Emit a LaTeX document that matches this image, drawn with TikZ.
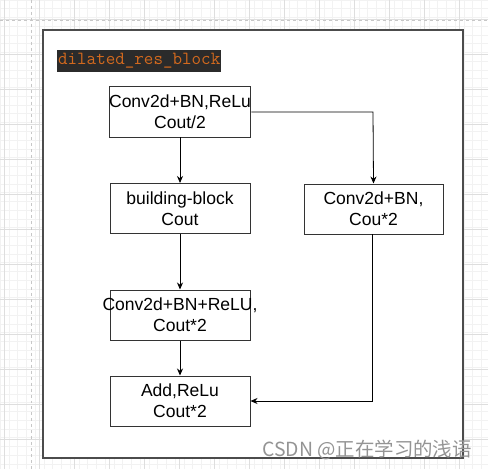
\documentclass[tikz,border=0pt]{standalone}
\usepackage{fontspec}
\setmainfont{Liberation Sans}
\newfontfamily\cjkfont{Noto Sans CJK SC}
\usetikzlibrary{arrows.meta}
\definecolor{darcbg}{HTML}{2B2B2B}
\definecolor{darcor}{HTML}{D2691E}
\definecolor{boxline}{HTML}{333333}
\tikzset{
  blk/.style={draw=boxline, line width=1pt, fill=white, minimum width=140bp, minimum height=50bp,
    inner sep=0pt, align=center, font=\fontsize{17.6}{21.5}\selectfont},
  conn/.style={draw=black, line width=0.8pt, -{Stealth[length=7bp,width=6bp]}},
  line/.style={draw=black, line width=0.8pt}
}
\begin{document}
\begin{tikzpicture}[x=1bp,y=-1bp]
\useasboundingbox (0,0) rectangle (488,469);
% background grid
\fill[white] (0,0) rectangle (488,469);
\draw[color=black!5, line width=0.5pt, step=8.75bp] (0,0) grid (488,469);
\foreach \xx in {4,39,74,109,144,179,214,249,284,319,354,389,424,459}
  \draw[color=black!13, line width=0.6pt] (\xx,0) -- (\xx,469);
\foreach \yy in {19,54,89,124,159,194,229,264,299,334,369,404,439}
  \draw[color=black!13, line width=0.6pt] (0,\yy) -- (488,\yy);
\draw[color=black!22, dashed, dash pattern=on 3pt off 3pt, line width=1pt] (0,21) -- (488,21);
\draw[color=black!22, dashed, dash pattern=on 3pt off 3pt, line width=1pt] (31,0) -- (31,469);
% outer frame
\draw[draw=black!70, fill=white, line width=1.3pt] (43,30) rectangle (463,458);
% title
\node[fill=darcbg, text=darcor, inner sep=0pt, minimum height=22bp, minimum width=164bp,
  font=\ttfamily\fontsize{18.6}{20}\selectfont, anchor=north west] (title) at (57,49.5) {dilated\_res\_block};
% blocks
\node[blk] (b1) at (180,112) {Conv2d+BN,ReLu\\Cout/2};
\node[blk] (b2) at (180,208.5) {building-block\\Cout};
\node[blk, minimum height=50bp] (b3) at (180,315) {\makebox[140bp]{Conv2d+BN+ReLU,}\\Cout*2};
\node[blk] (b4) at (180,401) {Add,ReLu\\Cout*2};
\node[blk, minimum width=139bp] (b5) at (373.5,209) {Conv2d+BN,\\Cou*2};
\coordinate (c1) at (373,112);
\coordinate (c2) at (372,401);
% connectors
\draw[conn] (b1.south) -- (b2.north);
\draw[conn] (b2.south) -- (b3.north);
\draw[conn] (b3.south) -- (b4.north);
\draw[conn] (b1.east) -- (c1) -- (b5.north);
\draw[conn] (b5.south -| c2) -- (c2) -- (b4.east);
% watermark
\node[text=black!42, inner sep=0pt, anchor=base west, font=\cjkfont\fontsize{19.5}{22}\selectfont] (wm) at (262,456) {CSDN @正在学习的浅语};
\end{tikzpicture}
\end{document}
